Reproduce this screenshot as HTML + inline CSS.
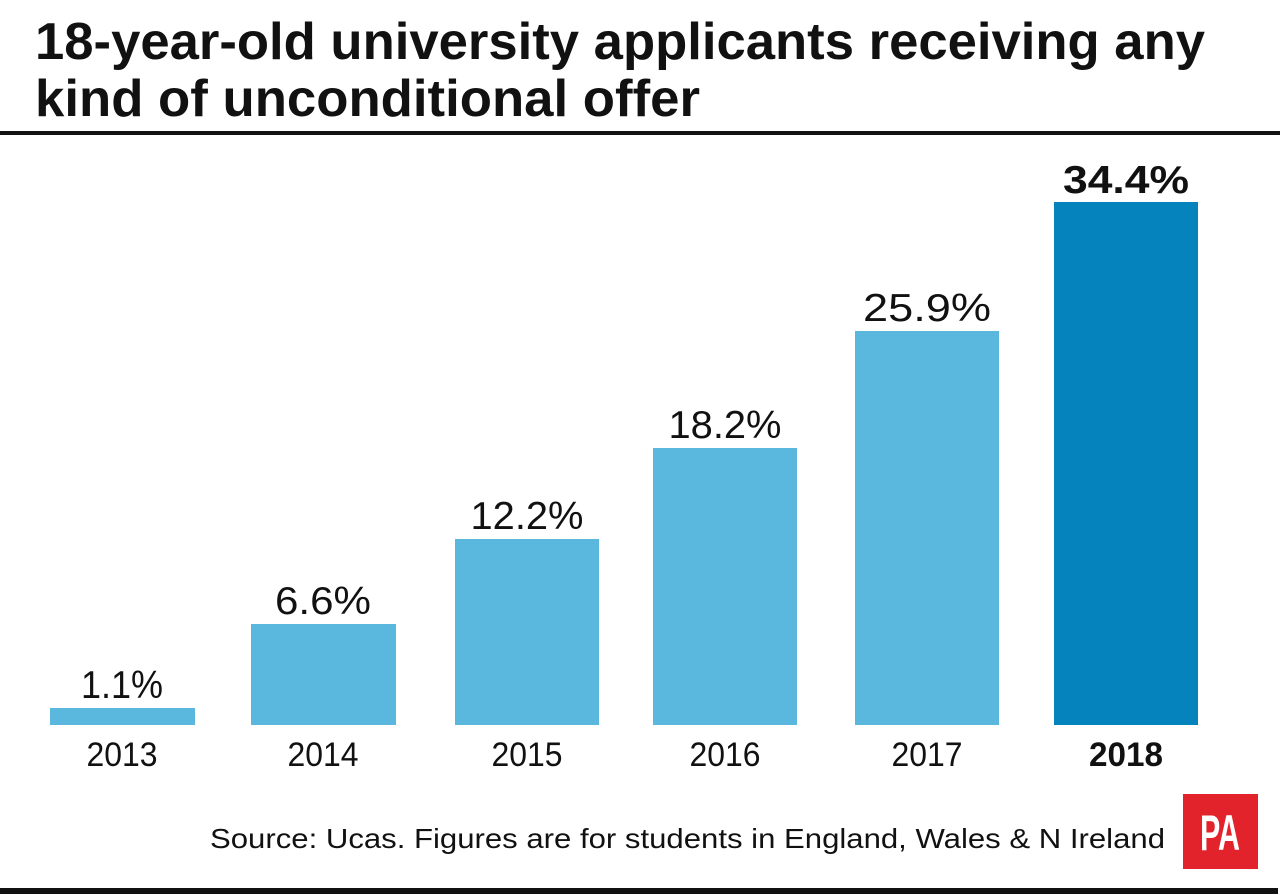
<!DOCTYPE html>
<html><head><meta charset="utf-8"><style>
html,body{margin:0;padding:0;background:#fff;width:1280px;height:895px;overflow:hidden}
text{font-family:"Liberation Sans",sans-serif}
</style></head><body>
<svg width="1280" height="895" xmlns="http://www.w3.org/2000/svg">
<text x="35" y="59" font-size="52" font-weight="bold" fill="#111" textLength="1170" lengthAdjust="spacingAndGlyphs">18-year-old university applicants receiving any</text>
<text x="35" y="116" font-size="52" font-weight="bold" fill="#111" textLength="665" lengthAdjust="spacingAndGlyphs">kind of unconditional offer</text>
<rect x="0" y="131" width="1280" height="4" fill="#111"/>
<g fill="#5ab8df">
<rect x="50" y="708" width="145" height="17"/>
<rect x="251" y="624" width="145" height="101"/>
<rect x="455" y="539" width="144" height="186"/>
<rect x="653" y="448" width="144" height="277"/>
<rect x="855" y="331" width="144" height="394"/>
</g>
<rect x="1054" y="202" width="144" height="523" fill="#0583bd"/>
<g font-size="39" fill="#111" text-anchor="middle" lengthAdjust="spacingAndGlyphs">
<text x="122" y="698" textLength="82" lengthAdjust="spacingAndGlyphs">1.1%</text>
<text x="323" y="614" textLength="96" lengthAdjust="spacingAndGlyphs">6.6%</text>
<text x="527" y="529" textLength="113" lengthAdjust="spacingAndGlyphs">12.2%</text>
<text x="725" y="438" textLength="113" lengthAdjust="spacingAndGlyphs">18.2%</text>
<text x="927" y="321" textLength="128" lengthAdjust="spacingAndGlyphs">25.9%</text>
<text x="1126" y="193" font-weight="bold" textLength="126" lengthAdjust="spacingAndGlyphs">34.4%</text>
</g>
<g font-size="34" fill="#111" text-anchor="middle">
<text x="122" y="766" textLength="71" lengthAdjust="spacingAndGlyphs">2013</text>
<text x="323" y="766" textLength="71" lengthAdjust="spacingAndGlyphs">2014</text>
<text x="527" y="766" textLength="71" lengthAdjust="spacingAndGlyphs">2015</text>
<text x="725" y="766" textLength="71" lengthAdjust="spacingAndGlyphs">2016</text>
<text x="927" y="766" textLength="71" lengthAdjust="spacingAndGlyphs">2017</text>
<text x="1126" y="766" font-weight="bold" textLength="74" lengthAdjust="spacingAndGlyphs">2018</text>
</g>
<text x="210" y="848" font-size="28" fill="#111" textLength="955" lengthAdjust="spacingAndGlyphs">Source: Ucas. Figures are for students in England, Wales &amp; N Ireland</text>
<rect x="1183" y="794" width="75" height="75" fill="#e3232b"/>
<text x="1220" y="850" font-size="50" font-weight="bold" fill="#fff" text-anchor="middle" textLength="40" lengthAdjust="spacingAndGlyphs">PA</text>
<rect x="0" y="888" width="1278" height="6" fill="#111"/>
</svg>
</body></html>
